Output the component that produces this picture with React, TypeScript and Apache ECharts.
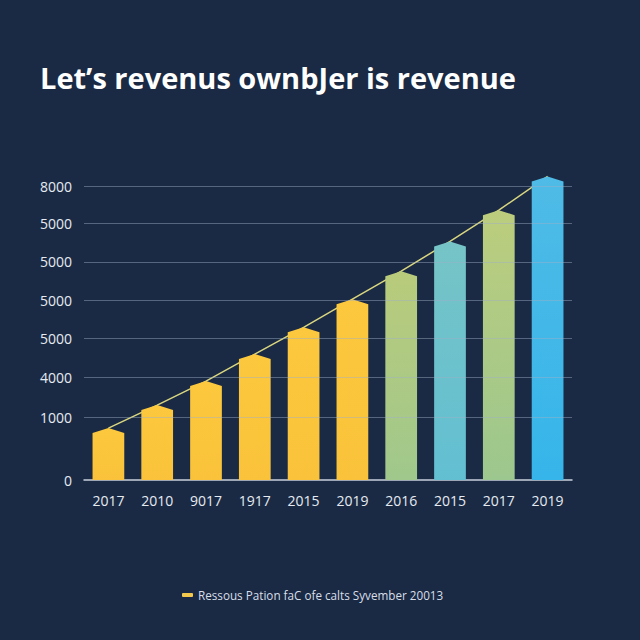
import React, { useEffect, useRef } from "react";
import * as echarts from "echarts";

const TITLE = "Let\u2019s revenus ownbJer is revenue";
const SERIES_NAME = "Ressous Pation faC ofe calts Syvember 20013";
const CATEGORIES = ["2017", "2010", "9017", "1917", "2015", "2019", "2016", "2015", "2017", "2019"];
const REVENUE = [1415, 2040, 2695, 3430, 4160, 4925, 5690, 6500, 7350, 8270];
const GRID_LEVELS = [0, 1700, 2790, 3860, 4900, 5940, 7000, 8000];
const TICK_LABELS = ["0", "1000", "4000", "5000", "5000", "5000", "5000", "8000"];
const BAR_TOP_COLORS = ["#fcc83d", "#fcc83d", "#fcc83d", "#fcc83d", "#fcc83d", "#fcc83d", "#b9cb7b", "#76c4c6", "#bccd7d", "#4fbbe6"];
const BAR_BOTTOM_COLORS = ["#f9c23a", "#f9c23a", "#f9c23a", "#f9c23a", "#f9c23a", "#f9c23a", "#a0c88c", "#62bfd2", "#9cc78e", "#36b5ea"];

const BG = "#1a2a44";
const TEXT = "#e6ebf2";
const FONT = "'Open Sans', 'Noto Sans', sans-serif";

export default function App() {
  const ref = useRef<HTMLDivElement>(null);

  useEffect(() => {
    if (!ref.current) return;
    const chart = echarts.init(ref.current, undefined, { renderer: "svg" });

    const barData = REVENUE.map((v, i) => [i, v]);

    const option: any = {
      animation: false,
      backgroundColor: BG,
      title: {
        text: TITLE,
        left: 35,
        top: 58,
        textStyle: { color: "#ffffff", fontSize: 29, fontWeight: "bold", fontFamily: FONT },
      },
      legend: {
        left: 177,
        top: 584,
        icon: "roundRect",
        itemWidth: 11,
        itemHeight: 4,
        data: [SERIES_NAME],
        textStyle: { color: "#d8dee8", fontSize: 11.7, fontFamily: FONT },
      },
      grid: { left: 84, right: 68, top: 168, bottom: 160 },
      xAxis: {
        type: "category",
        data: CATEGORIES,
        boundaryGap: true,
        axisLine: { lineStyle: { color: "#c9d1dc", width: 1.5 } },
        axisTick: { alignWithLabel: true, length: 6, lineStyle: { color: "#c9d1dc" } },
        axisLabel: { color: TEXT, fontSize: 14, margin: 13, fontFamily: FONT },
      },
      yAxis: {
        type: "value",
        min: 0,
        max: 8500,
        splitLine: { show: false },
        axisLine: { show: false },
        axisTick: { show: false },
        axisLabel: {
          show: true,
          customValues: GRID_LEVELS,
          margin: 12,
          color: TEXT,
          fontSize: 14,
          fontFamily: FONT,
          formatter: (v: number) => {
            const i = GRID_LEVELS.indexOf(v);
            return i >= 0 ? TICK_LABELS[i] : "";
          },
        },
      },
      series: [
        {
          name: SERIES_NAME,
          type: "line",
          data: REVENUE,
          symbol: "none",
          z: 3,
          color: "#f2c94c",
          lineStyle: { color: "#d9d67f", width: 1.5 },
          markLine: {
            silent: true,
            symbol: "none",
            animation: false,
            label: { show: false },
            lineStyle: { color: "rgba(160,175,200,0.45)", width: 1, type: "solid" },
            data: GRID_LEVELS.slice(1).map((v) => ({ yAxis: v })),
          },
        },
        {
          name: "bars",
          type: "custom",
          z: 4,
          data: barData,
          encode: { x: 0, y: 1 },
          renderItem: (params: any, api: any) => {
            const idx = api.value(0);
            const top = api.coord([idx, api.value(1)]);
            const base = api.coord([idx, 0]);
            const w = api.size([1, 0])[0] * 0.65;
            const cx = top[0];
            const roof = 5;
            return {
              type: "polygon",
              shape: {
                points: [
                  [cx - w / 2, base[1]],
                  [cx - w / 2, top[1] + roof],
                  [cx, top[1]],
                  [cx + w / 2, top[1] + roof],
                  [cx + w / 2, base[1]],
                ],
              },
              style: {
                fill: {
                  type: "linear",
                  x: 0,
                  y: 0,
                  x2: 0,
                  y2: 1,
                  colorStops: [
                    { offset: 0, color: BAR_TOP_COLORS[params.dataIndex] },
                    { offset: 1, color: BAR_BOTTOM_COLORS[params.dataIndex] },
                  ],
                },
              },
            };
          },
        },
      ],
    };

    chart.setOption(option);
    return () => chart.dispose();
  }, []);

  return (
    <div
      ref={ref}
      style={{ position: "fixed", left: 0, top: 0, width: 640, height: 640 }}
    />
  );
}
